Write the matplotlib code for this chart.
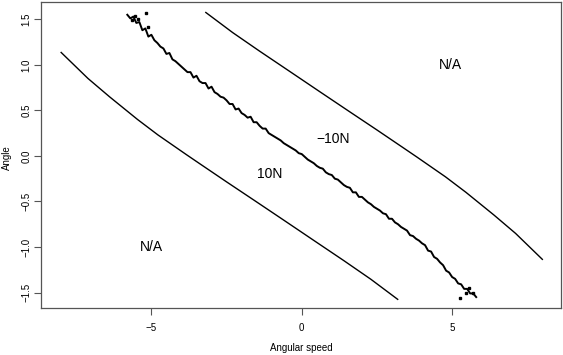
import matplotlib
matplotlib.use("Agg")
import matplotlib.pyplot as plt

plt.rcParams['font.family'] = ['Liberation Sans', 'DejaVu Sans']

# boundary curve for +10N
left_x = [-8.00, -7.11, -6.39, -5.46, -4.78, -3.84, -3.35, -2.50, -1.57, -0.60, 0.41, 1.40, 2.30, 3.19]
left_y = [1.136, 0.851, 0.649, 0.400, 0.230, 0.015, -0.095, -0.285, -0.490, -0.705, -0.930, -1.150, -1.355, -1.575]

# boundary curve for -10N
right_x = [-3.19, -2.30, -1.40, -0.41, 0.60, 1.57, 2.50, 3.35, 3.84, 4.78, 5.46, 6.39, 7.11, 8.00]
right_y = [1.575, 1.355, 1.150, 0.930, 0.705, 0.490, 0.285, 0.095, -0.015, -0.230, -0.400, -0.649, -0.851, -1.136]

# noisy trajectory in the middle
mid_x = [-5.8, -5.7, -5.6, -5.5, -5.4, -5.3, -5.2, -5.1, -5.0, -4.9, -4.8, -4.7, -4.6, -4.5,
         -4.4, -4.3, -4.2, -4.1, -4.0, -3.9, -3.8, -3.7, -3.6, -3.5, -3.4, -3.3, -3.2, -3.1,
         -3.0, -2.9, -2.8, -2.7, -2.6, -2.5, -2.4, -2.3, -2.2, -2.1, -2.0, -1.9, -1.8, -1.7,
         -1.6, -1.5, -1.4, -1.3, -1.2, -1.1, -1.0, -0.9, -0.8, -0.7, -0.6, -0.5, -0.4, -0.3,
         -0.2, -0.1, 0.0, 0.1, 0.2, 0.3, 0.4, 0.5, 0.6, 0.7, 0.8, 0.9, 1.0, 1.1, 1.2, 1.3,
         1.4, 1.5, 1.6, 1.7, 1.8, 1.9, 2.0, 2.1, 2.2, 2.3, 2.4, 2.5, 2.6, 2.7, 2.8, 2.9,
         3.0, 3.1, 3.2, 3.3, 3.4, 3.5, 3.6, 3.7, 3.8, 3.9, 4.0, 4.1, 4.2, 4.3, 4.4, 4.5,
         4.6, 4.7, 4.8, 4.9, 5.0, 5.1, 5.2, 5.3, 5.4, 5.5, 5.6, 5.7, 5.8]
mid_y = [1.55, 1.51, 1.53, 1.46, 1.47, 1.38, 1.40, 1.31, 1.33, 1.27, 1.24, 1.20, 1.18, 1.12,
         1.13, 1.06, 1.04, 1.01, 0.98, 0.95, 0.92, 0.92, 0.86, 0.88, 0.82, 0.80, 0.80, 0.74,
         0.76, 0.70, 0.68, 0.65, 0.64, 0.61, 0.57, 0.57, 0.51, 0.52, 0.47, 0.45, 0.42, 0.43,
         0.37, 0.37, 0.33, 0.30, 0.30, 0.25, 0.23, 0.21, 0.19, 0.17, 0.14, 0.12, 0.10, 0.08,
         0.06, 0.03, 0.02, -0.01, -0.04, -0.06, -0.08, -0.11, -0.13, -0.14, -0.18, -0.20, -0.21, -0.25, -0.26, -0.29,
         -0.32, -0.34, -0.35, -0.40, -0.40, -0.45, -0.45, -0.48, -0.51, -0.53, -0.56, -0.58, -0.60, -0.63, -0.64, -0.69,
         -0.69, -0.73, -0.75, -0.78, -0.80, -0.82, -0.87, -0.88, -0.91, -0.93, -0.96, -0.98, -1.04, -1.05, -1.11, -1.13,
         -1.17, -1.20, -1.26, -1.28, -1.33, -1.35, -1.40, -1.41, -1.46, -1.46, -1.51, -1.51, -1.55]

# stray points at the ends of the trajectory
dots_x = [-5.17, -5.45, -5.10, -5.65, -5.55, 5.25, 5.55, 5.70, 5.45]
dots_y = [1.57, 1.50, 1.42, 1.49, 1.54, -1.56, -1.45, -1.51, -1.50]

labels = ["N/A", "N/A", "\u221210N", "10N"]
label_x = [4.96, -5.0, 1.05, -1.05]
label_y = [1.0, -1.0, 0.19, -0.20]

fig = plt.figure(figsize=(5.63, 3.55), dpi=100)
ax = fig.add_axes([41/563, 47/355, 520/563, 306/355])

ax.plot(left_x, left_y, color='black', lw=1.0)
ax.plot(right_x, right_y, color='black', lw=1.0)
ax.plot(mid_x, mid_y, color='black', lw=1.4)
ax.plot(dots_x, dots_y, 's', color='black', ms=1.5)

for t, x, y in zip(labels, label_x, label_y):
    ax.text(x, y, t, fontsize=10, ha='center', va='center')

ax.set_xlim(-8.67, 8.62)
ax.set_ylim(-1.67, 1.69)
ax.set_xticks([-5, 0, 5])
ax.set_yticks([-1.5, -1.0, -0.5, 0.0, 0.5, 1.0, 1.5])
ax.set_yticklabels(["\u22121.5", "\u22121.0", "\u22120.5", "0.0", "0.5", "1.0", "1.5"],
                   rotation=90, va='center')
ax.tick_params(axis='both', direction='out', length=5, width=0.8, color='#555555',
               labelsize=7)
ax.tick_params(axis='x', pad=6)
ax.tick_params(axis='y', pad=2)
for s in ax.spines.values():
    s.set_color('#555555')
    s.set_linewidth(0.9)

fig.text(301/563, 1 - 348/355, 'Angular speed', fontsize=7, ha='center', va='center')
fig.text(7/563, 1 - 158/355, 'Angle', fontsize=7, ha='center', va='center', rotation=90)

fig.savefig('out.png', dpi=100)
